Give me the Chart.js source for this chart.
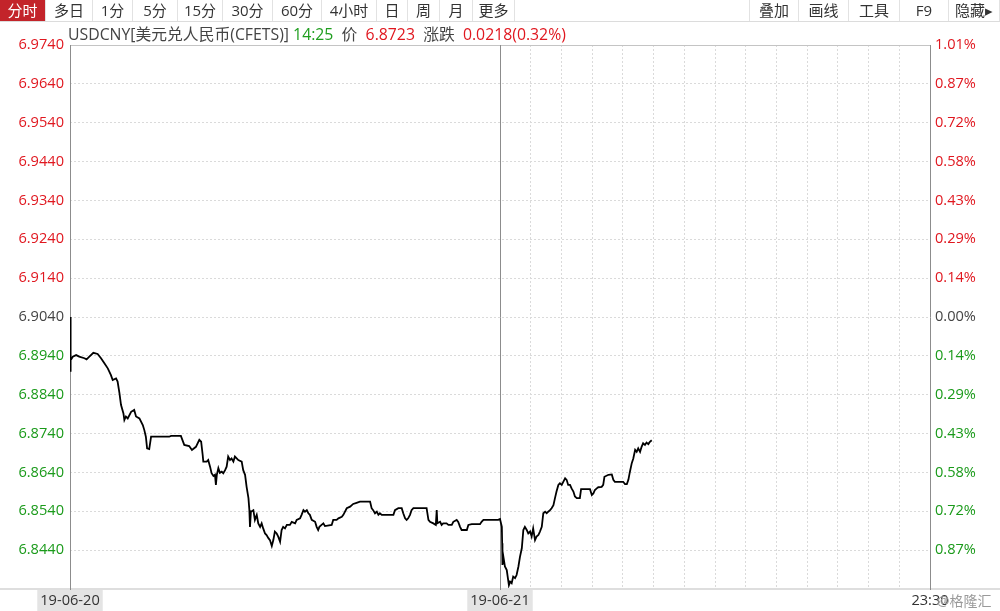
<!DOCTYPE html>
<html>
<head>
<meta charset="utf-8">
<script src="https://cdn.jsdelivr.net/npm/chart.js@4/dist/chart.umd.min.js"></script>
<style>
  body { margin: 0; background: #fff; font-family: 'Open Sans', 'Noto Sans CJK SC', sans-serif; }
  #wrap { position: relative; width: 1000px; height: 611px; overflow: hidden; }
  #wrap canvas { position: absolute; left: 0; top: 0; }
  .bar { position: absolute; left: 0; top: 0; width: 1000px; height: 22px; border-bottom: 1px solid #dcdcdc; box-sizing: border-box; }
  .btn { position: absolute; top: 0; height: 21px; line-height: 21px; text-align: center; font-size: 15px; color: #333; border-right: 1px solid #e2e2e2; box-sizing: border-box; }
  .btn.sel { background: #c3242a; color: #fff; }
  .head { position: absolute; left: 68px; top: 22px; font-size: 15.8px; color: #444; white-space: nowrap; }
  .head .g { color: #1f9e1f; }
  .head .r { color: #e0171f; }
  .mark { position: absolute; left: 937px; top: 590px; font-size: 14px; color: #9a9a9a; }
</style>
</head>
<body>
<div id="wrap">
  <canvas id="c" width="1000" height="611"></canvas>
  <div class="bar" id="bar"></div>
  <div class="head">USDCNY[美元兑人民币(CFETS)] <span class="g">14:25</span>&nbsp; 价&nbsp; <span class="r">6.8723</span>&nbsp; 涨跌&nbsp; <span class="r">0.0218(0.32%)</span></div>
  <div class="mark">@格隆汇</div>
</div>
<script>
// price path, x in hours since session start (14h per day), y in CNY
const day1 = [
  [0, 6.9040], [0.01, 6.8899], [0.02, 6.8940], [0.03, 6.8929], [0.09, 6.8938], [0.20, 6.8942],
  [0.30, 6.8938], [0.47, 6.8934], [0.54, 6.8931], [0.63, 6.8938], [0.76, 6.8948], [0.90, 6.8945],
  [1.01, 6.8934], [1.12, 6.8921], [1.23, 6.8908], [1.33, 6.8891], [1.39, 6.8878], [1.50, 6.8882],
  [1.55, 6.8874], [1.61, 6.8844], [1.66, 6.8814], [1.74, 6.8792], [1.77, 6.8775], [1.82, 6.8784],
  [1.88, 6.8779], [1.99, 6.8796], [2.09, 6.8801], [2.15, 6.8784], [2.26, 6.8779], [2.37, 6.8762],
  [2.42, 6.8749], [2.47, 6.8732], [2.51, 6.8702], [2.58, 6.8700], [2.64, 6.8732], [3.23, 6.8732],
  [3.29, 6.8734], [3.61, 6.8734], [3.72, 6.8711], [3.88, 6.8708], [3.97, 6.8698], [4.10, 6.8706],
  [4.21, 6.8724], [4.27, 6.8719], [4.32, 6.8685], [4.34, 6.8668], [4.45, 6.8668], [4.50, 6.8672],
  [4.56, 6.8655], [4.61, 6.8638], [4.67, 6.8631], [4.72, 6.8634], [4.75, 6.8608], [4.78, 6.8634],
  [4.83, 6.8651], [4.88, 6.8639], [4.94, 6.8642], [4.99, 6.8638], [5.05, 6.8646], [5.10, 6.8655],
  [5.15, 6.8681], [5.21, 6.8672], [5.26, 6.8676], [5.32, 6.8668], [5.37, 6.8681], [5.48, 6.8672],
  [5.59, 6.8668], [5.64, 6.8646], [5.70, 6.8634], [5.75, 6.8603], [5.81, 6.8574], [5.84, 6.8543],
  [5.86, 6.8500], [5.89, 6.8539], [5.97, 6.8543], [6.02, 6.8518], [6.08, 6.8531], [6.13, 6.8509],
  [6.19, 6.8500], [6.24, 6.8509], [6.29, 6.8496], [6.35, 6.8483], [6.40, 6.8479], [6.46, 6.8471],
  [6.51, 6.8466], [6.57, 6.8451], [6.62, 6.8466], [6.67, 6.8488], [6.73, 6.8483], [6.78, 6.8475],
  [6.84, 6.8462], [6.89, 6.8492], [6.94, 6.8500], [7.00, 6.8496], [7.06, 6.8505], [7.16, 6.8505],
  [7.22, 6.8513], [7.33, 6.8509], [7.38, 6.8518], [7.49, 6.8522], [7.54, 6.8531], [7.60, 6.8543],
  [7.65, 6.8539], [7.71, 6.8543], [7.76, 6.8535], [7.81, 6.8531], [7.87, 6.8518], [7.98, 6.8513],
  [8.03, 6.8500], [8.08, 6.8492], [8.12, 6.8500], [8.19, 6.8505], [8.25, 6.8509], [8.30, 6.8502],
  [8.52, 6.8505], [8.57, 6.8518], [8.68, 6.8518], [8.74, 6.8522], [8.85, 6.8526], [8.90, 6.8531],
  [9.01, 6.8548], [9.12, 6.8552], [9.22, 6.8559], [9.33, 6.8562], [9.44, 6.8565], [9.77, 6.8565],
  [9.82, 6.8548], [9.87, 6.8543], [9.93, 6.8535], [9.99, 6.8539], [10.04, 6.8531], [10.09, 6.8535],
  [10.15, 6.8531], [10.53, 6.8531], [10.58, 6.8543], [10.69, 6.8548], [10.80, 6.8548], [10.85, 6.8535],
  [10.91, 6.8522], [10.96, 6.8518], [11.01, 6.8522], [11.07, 6.8531], [11.12, 6.8543], [11.18, 6.8548],
  [11.61, 6.8548], [11.67, 6.8518], [11.72, 6.8513], [11.83, 6.8509], [11.91, 6.8505], [11.94, 6.8543],
  [11.96, 6.8509], [12.05, 6.8513], [12.10, 6.8505], [12.15, 6.8509], [12.26, 6.8509], [12.32, 6.8505],
  [12.43, 6.8505], [12.48, 6.8513], [12.59, 6.8518], [12.64, 6.8513], [12.70, 6.8500], [12.75, 6.8492],
  [12.92, 6.8492], [12.97, 6.8505], [13.08, 6.8507], [13.35, 6.8507], [13.40, 6.8513], [13.46, 6.8518],
  [13.94, 6.8518]
];

const day2 = [
  [14.00, 6.8520], [14.06, 6.8500], [14.07, 6.8458], [14.08, 6.8402], [14.11, 6.8423], [14.16, 6.8398],
  [14.22, 6.8389], [14.25, 6.8372], [14.29, 6.8350], [14.33, 6.8359], [14.38, 6.8355], [14.43, 6.8372],
  [14.49, 6.8368], [14.54, 6.8376], [14.60, 6.8398], [14.65, 6.8423], [14.71, 6.8445], [14.76, 6.8492],
  [14.81, 6.8500], [14.87, 6.8492], [14.92, 6.8483], [14.98, 6.8488], [15.03, 6.8475], [15.08, 6.8496],
  [15.14, 6.8466], [15.19, 6.8475], [15.25, 6.8479], [15.30, 6.8488], [15.36, 6.8500], [15.41, 6.8535],
  [15.47, 6.8539], [15.52, 6.8535], [15.57, 6.8539], [15.63, 6.8543], [15.68, 6.8548], [15.74, 6.8556],
  [15.79, 6.8574], [15.84, 6.8591], [15.90, 6.8608], [15.95, 6.8612], [16.01, 6.8608], [16.06, 6.8616],
  [16.12, 6.8625], [16.17, 6.8621], [16.22, 6.8608], [16.28, 6.8608], [16.33, 6.8599], [16.39, 6.8591],
  [16.44, 6.8578], [16.50, 6.8574], [16.60, 6.8574], [16.64, 6.8597], [16.93, 6.8597], [16.99, 6.8582],
  [17.04, 6.8586], [17.09, 6.8595], [17.15, 6.8599], [17.20, 6.8602], [17.31, 6.8603], [17.36, 6.8608],
  [17.40, 6.8629], [17.53, 6.8634], [17.64, 6.8635], [17.69, 6.8621], [17.74, 6.8616], [18.01, 6.8616],
  [18.07, 6.8610], [18.13, 6.8610], [18.18, 6.8621], [18.23, 6.8642], [18.29, 6.8664], [18.34, 6.8676],
  [18.40, 6.8698], [18.45, 6.8693], [18.50, 6.8702], [18.56, 6.8693], [18.61, 6.8706], [18.66, 6.8715],
  [18.72, 6.8711], [18.77, 6.8717], [18.83, 6.8713], [18.88, 6.8719], [18.94, 6.8723]
];

const prevClose = 6.9040;
const priceTicks = [6.9740, 6.9640, 6.9540, 6.9440, 6.9340, 6.9240, 6.9140,
                    6.9040, 6.8940, 6.8840, 6.8740, 6.8640, 6.8540, 6.8440];
const yMin = 6.83427, yMax = 6.9740;
const hourLines = [15, 16, 17, 18, 19, 20, 21, 22, 23, 24, 25, 26, 27];
const dateTickPos = [0, 14, 28];
const dateLabels = ['19-06-20', '19-06-21', '23:30'];

const RED = '#e0171f', GREEN = '#1a9a1a', GREY = '#444';

// toolbar (plain html)
const leftBtns = [['分时', 0, 46, true], ['多日', 46, 47], ['1分', 93, 40], ['5分', 133, 45], ['15分', 178, 45],
  ['30分', 223, 50], ['60分', 273, 49], ['4小时', 322, 55], ['日', 377, 31], ['周', 408, 32],
  ['月', 440, 33], ['更多', 473, 42]];
const rightBtns = [['叠加', 749, 50], ['画线', 799, 50], ['工具', 849, 51], ['F9', 900, 49], ['隐藏▸', 949, 51]];
const bar = document.getElementById('bar');
leftBtns.concat(rightBtns).forEach(([txt, left, w, sel]) => {
  const d = document.createElement('div');
  d.className = 'btn' + (sel ? ' sel' : '');
  d.style.left = left + 'px';
  d.style.width = w + 'px';
  if (left === 749) d.style.borderLeft = '1px solid #e2e2e2';
  d.textContent = txt;
  bar.appendChild(d);
});

function priceColor(v) {
  if (Math.abs(v - prevClose) < 1e-6) return GREY;
  return v > prevClose ? RED : GREEN;
}

const frame = {
  id: 'frame',
  beforeDatasetsDraw(chart) {
    const { ctx, chartArea: a, scales: { x } } = chart;
    const line = (x1, y1, x2, y2) => { ctx.beginPath(); ctx.moveTo(x1, y1); ctx.lineTo(x2, y2); ctx.stroke(); };
    ctx.save();
    ctx.lineWidth = 1;
    ctx.strokeStyle = '#c4c4c4';
    line(a.left, a.top + 0.5, a.right, a.top + 0.5);
    ctx.lineWidth = 2;
    ctx.strokeStyle = '#dedede';
    line(0, a.bottom + 1, chart.width, a.bottom + 1);
    ctx.lineWidth = 1;
    ctx.strokeStyle = '#8c8c8c';
    line(Math.round(a.left) + 0.5, a.top, Math.round(a.left) + 0.5, a.bottom + 2);
    line(Math.round(a.right) + 0.5, a.top, Math.round(a.right) + 0.5, a.bottom + 2);
    const xd = Math.round(x.getPixelForValue(14)) + 0.5;
    line(xd, a.top, xd, a.bottom + 2);
    ctx.restore();
  }
};

const tickFont = { family: "'Open Sans', 'Noto Sans CJK SC', sans-serif", size: 14.6 };

new Chart(document.getElementById('c'), {
  type: 'line',
  data: {
    datasets: [{
      data: day1.concat(day2).map(([t, p]) => ({ x: t, y: p })),
      borderColor: '#000',
      borderWidth: 1.8,
      pointRadius: 0,
      tension: 0,
      fill: false,
    }],
  },
  options: {
    responsive: false,
    animation: false,
    layout: { padding: { top: 45, left: 0, right: 0, bottom: 0 } },
    plugins: { legend: { display: false }, tooltip: { enabled: false } },
    scales: {
      x: {
        type: 'linear', min: 0, max: 28,
        afterBuildTicks: s => { s.ticks = dateTickPos.concat(hourLines).sort((a, b) => a - b).map(v => ({ value: v })); },
        afterFit: s => { s.height = 23; },
        grid: {
          drawTicks: false,
          color: c => (c.tick && c.tick.value > 14 && c.tick.value < 28) ? '#dadada' : 'rgba(0,0,0,0)',
        },
        border: { display: false, dash: [2, 2] },
        ticks: {
          autoSkip: false, maxRotation: 0, padding: 4, color: '#333', font: tickFont,
          callback: v => { const i = dateTickPos.indexOf(v); return i >= 0 ? dateLabels[i] : ''; },
          showLabelBackdrop: true,
          backdropColor: c => (c.tick && (c.tick.value === 0 || c.tick.value === 14)) ? '#e4e4e4' : 'rgba(0,0,0,0)',
          backdropPadding: { x: 3, y: 2 },
        },
      },
      y: {
        position: 'left', min: yMin, max: yMax,
        afterBuildTicks: s => { s.ticks = priceTicks.map(v => ({ value: v })); },
        afterFit: s => { s.width = 70; },
        grid: { drawTicks: false, color: '#dadada' },
        border: { display: false, dash: [2, 2] },
        ticks: { padding: 6, font: tickFont, color: c => priceColor(c.tick.value), callback: v => v.toFixed(4) },
      },
      y1: {
        position: 'right', min: yMin, max: yMax,
        afterBuildTicks: s => { s.ticks = priceTicks.map(v => ({ value: v })); },
        afterFit: s => { s.width = 70; },
        grid: { display: false, drawTicks: false },
        border: { display: false },
        ticks: {
          padding: 5, font: tickFont, color: c => priceColor(c.tick.value),
          callback: v => (Math.abs(v - prevClose) / prevClose * 100).toFixed(2) + '%',
        },
      },
    },
  },
  plugins: [frame],
});
</script>
</body>
</html>
